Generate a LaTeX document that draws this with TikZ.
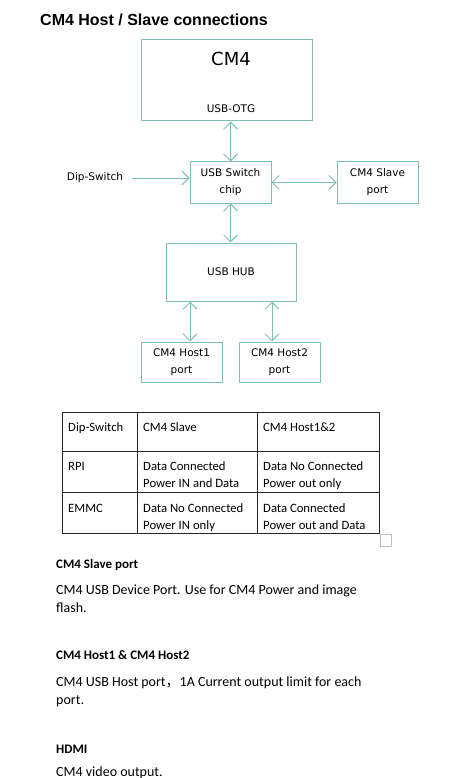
\documentclass[tikz,border=0pt]{standalone}
\usepackage{fontspec}
\setmainfont{Carlito}
\newfontfamily\boxfont{DejaVu Sans}
\newfontfamily\titlefont{Liberation Sans}
\newfontfamily\cjk{Noto Sans CJK SC}
\usepackage{tikz}
\usetikzlibrary{arrows.meta, positioning}
\definecolor{boxline}{RGB}{125,192,182}
\tikzstyle{block} = [
    rectangle, 
    minimum width=81pt, 
    minimum height=41pt,
    inner sep=0pt,
    align=center, 
    draw=boxline, 
    line width=1pt,
    font=\boxfont\fontsize{10.5}{17}\selectfont
]
\tikzstyle{link} = [
    draw=boxline, 
    line width=1pt, 
    >={Straight Barb[length=7pt,width=14pt]}
]
\tikzstyle{cell} = [
    anchor=base west, 
    inner sep=0pt, 
    align=left,
    font=\fontsize{12.7}{17}\selectfont
]
\tikzstyle{para} = [
    anchor=base west, 
    inner sep=0pt, 
    align=left,
    font=\fontsize{14}{18}\selectfont
]
\tikzstyle{head} = [
    anchor=base west, 
    inner sep=0pt,
    font=\bfseries\fontsize{13}{16}\selectfont
]

\begin{document}
\begin{tikzpicture}[x=1pt, y=1pt, node distance=1cm, >=stealth]
    \useasboundingbox (0,0) rectangle (474,-778);
    \clip (0,0) rectangle (474,-778);
    \node (title) [anchor=base west, inner sep=0pt, font=\titlefont\bfseries\fontsize{16}{19}\selectfont] at (40,-26) {CM4 Host / Slave connections};

    % block diagram
    \node (sw) [block] at (230.5,-182.5) {USB Switch\\chip};
    \node (cm4) [block, above of=sw, node distance=102pt, xshift=-4pt, minimum width=171pt, minimum height=81pt] {};
    \node (cm4name) [anchor=base, font=\boxfont\fontsize{18}{20}\selectfont] at (231,-66) {CM4};
    \node (otg) [anchor=base, font=\boxfont\fontsize{10.5}{12}\selectfont] at (231,-113) {USB-OTG};
    \node (slave) [block, right of=sw, node distance=147pt] {CM4 Slave\\port};
    \node (dip) [left of=sw, node distance=135.5pt, yshift=4.5pt, inner xsep=9pt, font=\boxfont\fontsize{10.5}{12}\selectfont] {Dip-Switch};
    \node (hub) [block, below of=sw, node distance=89.5pt, xshift=0.5pt, minimum width=130pt, minimum height=58pt] {USB HUB};
    \node (host1) [block, below of=hub, node distance=90pt, xshift=-49.5pt, minimum height=40pt] {CM4 Host1\\port};
    \node (host2) [block, below of=hub, node distance=90pt, xshift=48.5pt, minimum height=40pt] {CM4 Host2\\port};

    \draw[link, <->] (sw.north |- cm4.south) -- (sw.north);
    \draw[link, ->] (dip.east) -- (dip.east -| sw.west);
    \draw[link, <->] (sw.east) -- (slave.west);
    \draw[link, <->] (sw.south) -- (sw.south |- hub.north);
    \draw[link, <->] ([xshift=-41pt]hub.south) -- ([xshift=8.5pt]host1.north);
    \draw[link, <->] ([xshift=41pt]hub.south) -- ([xshift=-7.5pt]host2.north);

    % table
    \draw[black!85, line width=0.9pt] (62,-412) rectangle (379,-533);
    \draw[black!85, line width=0.9pt] (62,-451) -- (379,-451);
    \draw[black!85, line width=0.9pt] (62,-492) -- (379,-492);
    \draw[black!85, line width=0.9pt] (137,-412) -- (137,-533);
    \draw[black!85, line width=0.9pt] (257,-412) -- (257,-533);
    \draw[black!25, line width=0.8pt] (380,-534) rectangle (391,-546);
    % base of a two-line cell is its last line
    \node (c11) [cell] at (68,-431) {Dip-Switch};
    \node (c12) [cell] at (143,-431) {CM4 Slave};
    \node (c13) [cell] at (263,-431) {CM4 Host1\&2};
    \node (c21) [cell] at (68,-470) {RPI};
    \node (c22) [cell] at (143,-487) {Data Connected\\Power IN and Data};
    \node (c23) [cell] at (263,-487) {Data No Connected\\Power out only};
    \node (c31) [cell] at (68,-512) {EMMC};
    \node (c32) [cell] at (143,-529) {Data No Connected\\Power IN only};
    \node (c33) [cell] at (263,-529) {Data Connected\\Power out and Data};

    % notes
    \node (h1) [head] at (56,-568) {CM4 Slave port};
    \node (p1) [para] at (56,-612) {CM4 USB Device Port. Use for CM4 Power and image\\flash.};
    \node (h2) [head] at (56,-659) {CM4 Host1 \& CM4 Host2};
    \node (p2) [para] at (56,-704) {CM4 USB Host port{\cjk ，}1A Current output limit for each\\port.};
    \node (h3) [head] at (56,-753) {HDMI};
    \node (p3) [para] at (56,-776) {CM4 video output.};
\end{tikzpicture}
\end{document}
